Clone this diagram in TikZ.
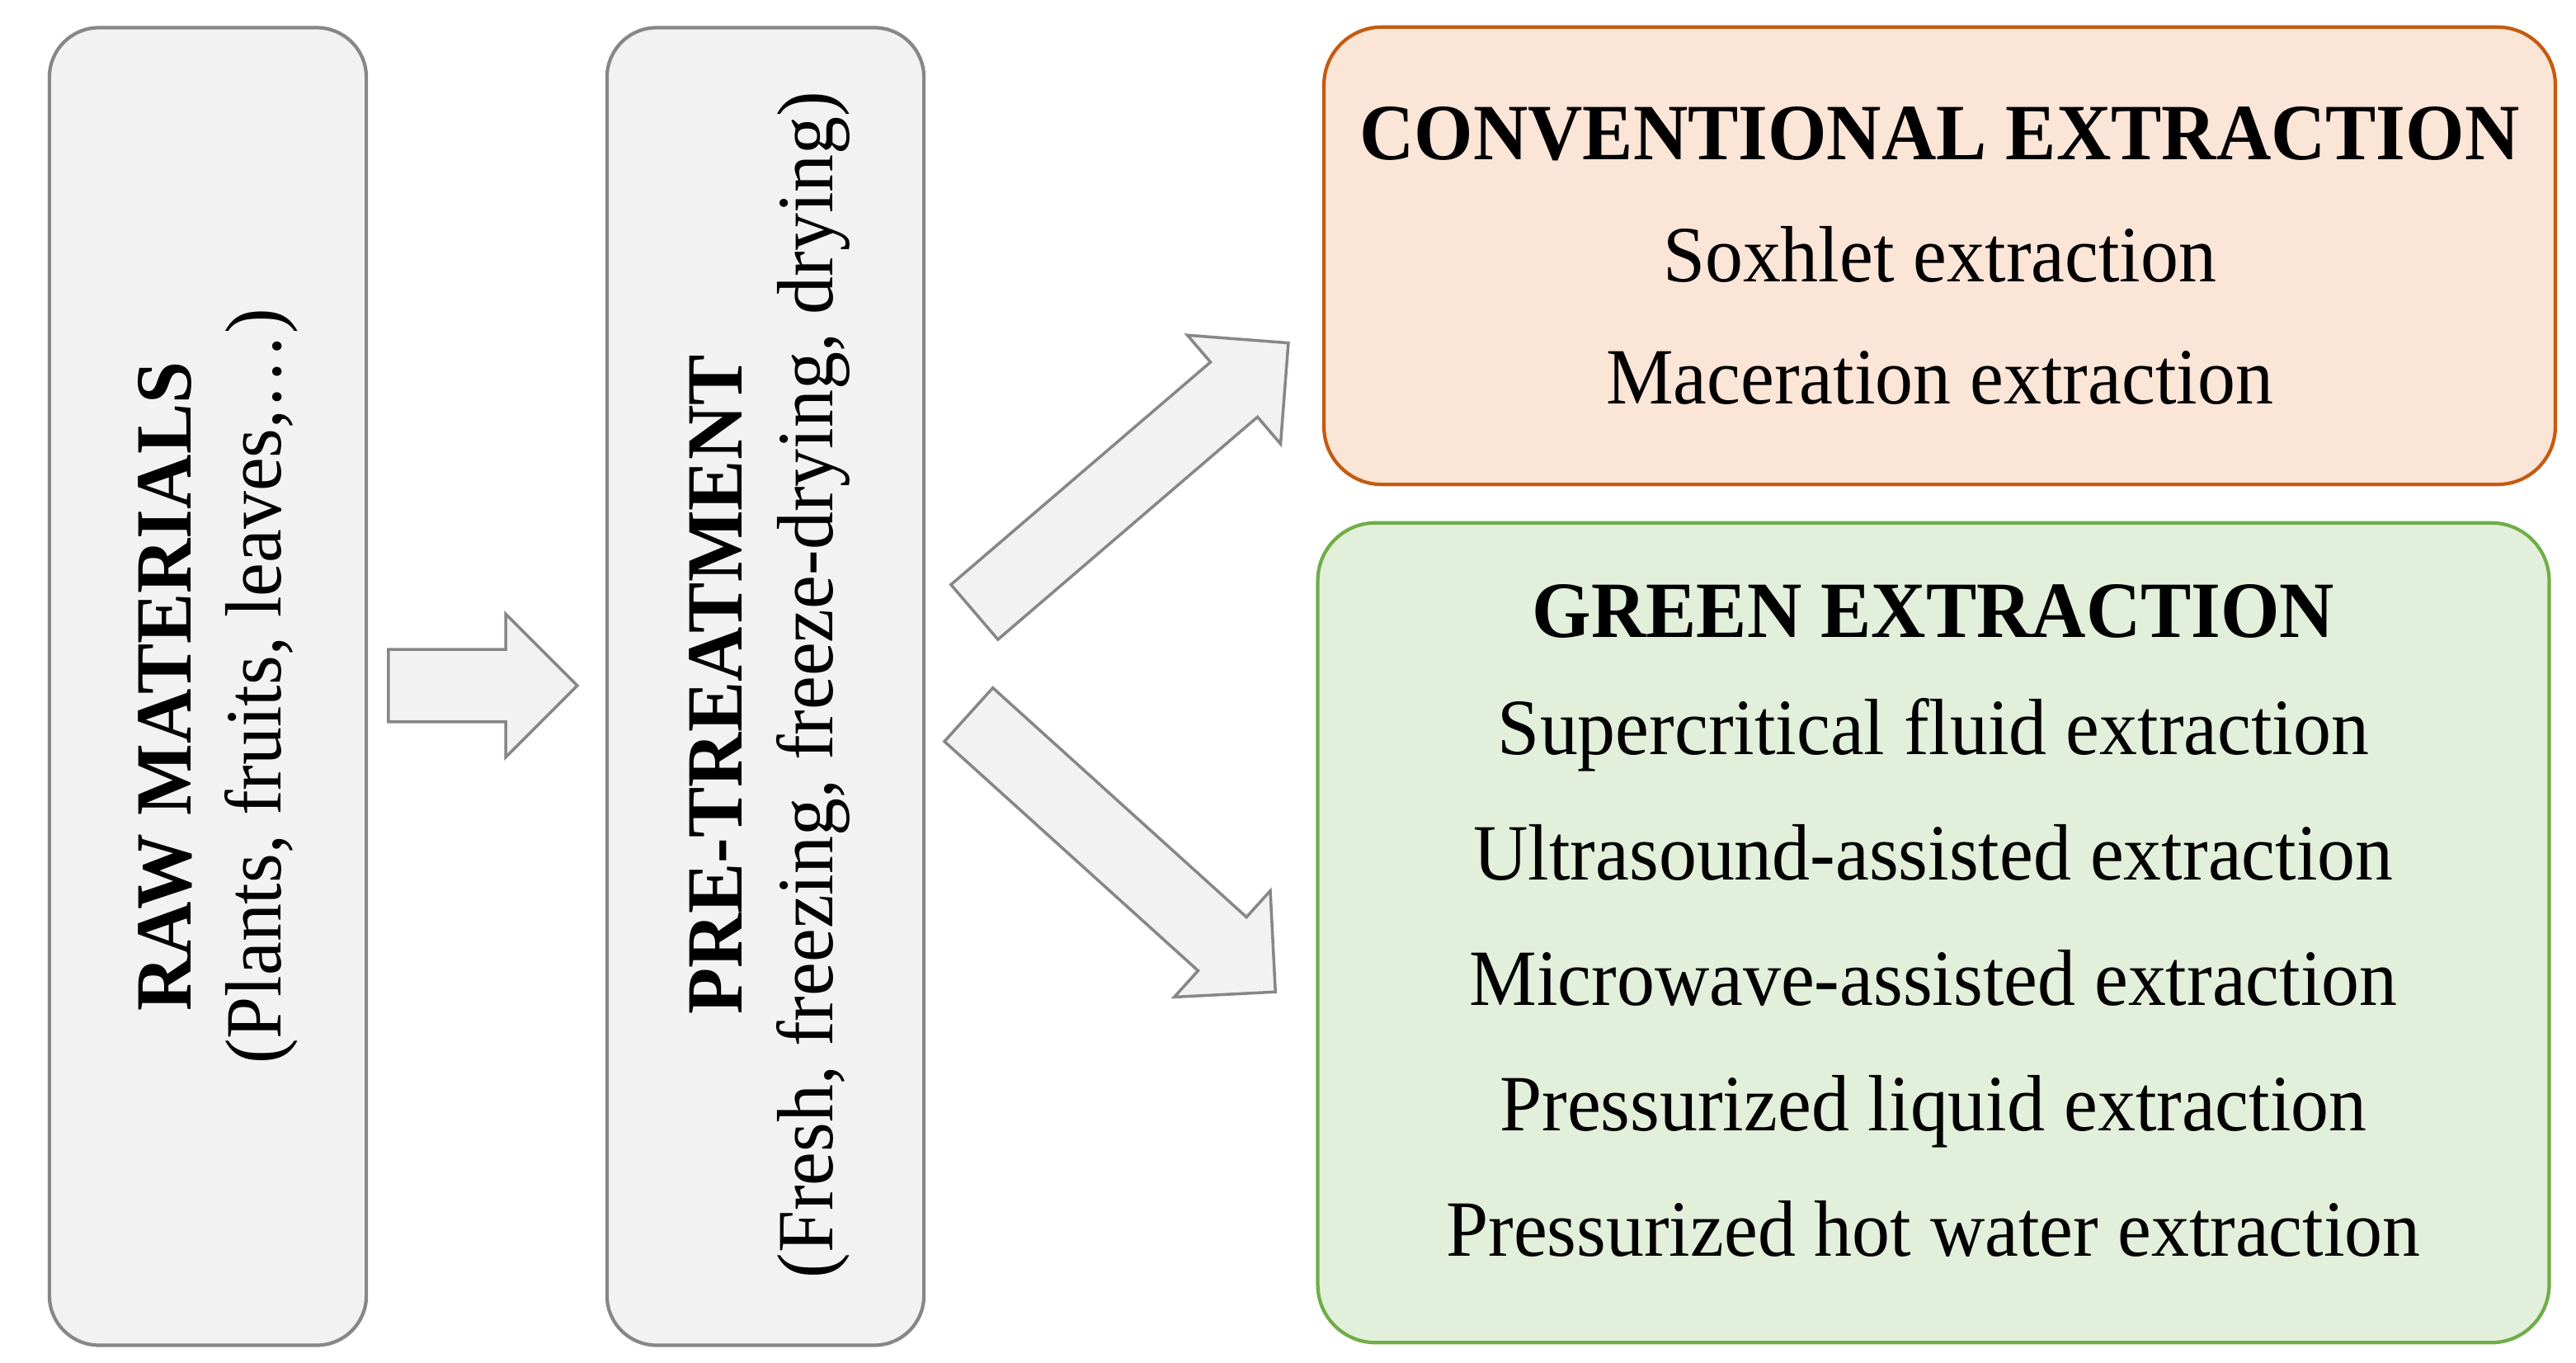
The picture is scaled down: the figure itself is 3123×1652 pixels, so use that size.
\documentclass[tikz,border=0pt]{standalone}
\usepackage{fontspec}
\setmainfont{Liberation Serif}[FakeStretch=0.95]
\usetikzlibrary{shapes.arrows, positioning}
\definecolor{boxgray}{RGB}{242, 242, 242}
\definecolor{linegray}{RGB}{135, 135, 135}
\definecolor{convfill}{RGB}{251, 229, 214}
\definecolor{convline}{RGB}{197, 90, 17}
\definecolor{greenfill}{RGB}{226, 239, 218}
\definecolor{greenline}{RGB}{112, 173, 71}
\tikzstyle{stage} = [rectangle, rounded corners=0.6cm, minimum width=3.84cm, minimum height=15.96cm, inner sep=0pt, draw=linegray, fill=boxgray, line width=1.2pt]
\tikzstyle{stagetext} = [rotate=90, align=center, inner sep=0pt, font=\fontsize{27.5pt}{31pt}\selectfont]
\tikzstyle{method} = [rectangle, rounded corners=0.7cm, minimum width=14.92cm, inner sep=0pt, line width=1.2pt]
\tikzstyle{methodtext} = [align=center, inner sep=0pt]
\tikzstyle{blockarrow} = [single arrow, anchor=tail, single arrow tip angle=90, single arrow head extend=0.43cm, inner xsep=0pt, inner ysep=0.42cm, draw=linegray, fill=boxgray, line width=1pt]

\begin{document}
\begin{tikzpicture}[x=0.01cm, y=-0.01cm]
\useasboundingbox (0,0) rectangle (3123,1652);

\node (raw) [stage] at (252,832) {};
\node (pre) [stage] at (928,832) {};
\node (rawtext) [stagetext] at (264,832) {\textbf{RAW MATERIALS}\\(Plants, fruits, leaves,…)};
\node (pretext) [stagetext] at (933,830) {\textbf{PRE-TREATMENT}\\(Fresh, freezing, freeze-drying, drying)};

\node (conv) [method, draw=convline, fill=convfill, minimum height=5.54cm] at (2351.5,310) {};
\node (green) [method, draw=greenline, fill=greenfill, minimum height=9.93cm] at (2344,1130.5) {};
\node (convtext) [methodtext, font=\fontsize{27.5pt}{42.2pt}\selectfont] at (2351.5,310) {\textbf{CONVENTIONAL EXTRACTION}\\Soxhlet extraction\\Maceration extraction};
\node (greentext) [methodtext, font=\fontsize{27.5pt}{43.2pt}\selectfont] at (2344,1116) {\textbf{GREEN EXTRACTION}\\[-0.1cm]Supercritical fluid extraction\\Ultrasound-assisted extraction\\Microwave-assisted extraction\\Pressurized liquid extraction\\Pressurized hot water extraction};

% Arrows
\node (topre) [blockarrow, minimum height=2.29cm] at (469,831) {};
\node (toconv) [blockarrow, minimum height=5.01cm, rotate=40.6] at (1180,743) {};
\node (togreen) [blockarrow, minimum height=5.01cm, rotate=-42.1] at (1173,865) {};

\end{tikzpicture}
\end{document}
